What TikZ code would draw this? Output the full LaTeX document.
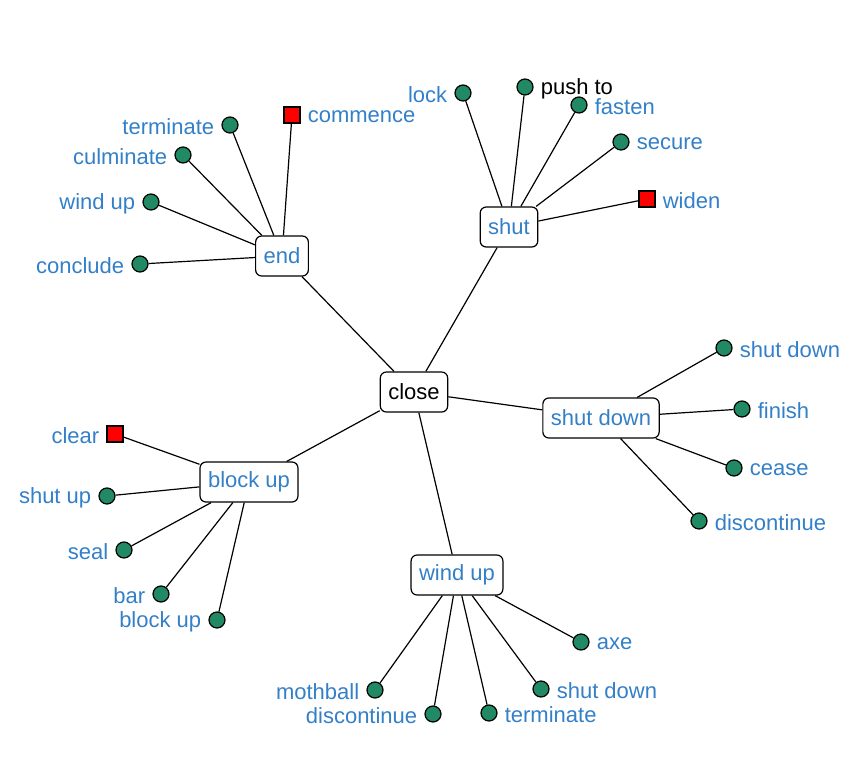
\documentclass[tikz,border=0pt]{standalone}
\usepackage{fontspec}
\setmainfont{Liberation Sans}
\definecolor{lblue}{HTML}{3380C8}
\definecolor{lgreen}{HTML}{218A65}
\definecolor{lred}{HTML}{FF0000}
\tikzset{
  hub/.style={draw, line width=1.2pt, rounded corners=6pt, fill=white, minimum height=40pt, inner xsep=8pt, inner ysep=0pt, font=\fontsize{22}{26}\selectfont, text=lblue},
  leaf/.style={circle, draw, line width=1.2pt, fill=lgreen, minimum size=16pt, inner sep=0pt},
  sq/.style={rectangle, draw, line width=1.2pt, fill=lred, minimum size=16pt, inner sep=0pt},
  lbl/.style={font=\fontsize{22}{26}\selectfont, text=lblue, inner sep=0pt, yshift=-1.5pt},
  lblk/.style={font=\fontsize{22}{26}\selectfont, text=black, inner sep=0pt, yshift=-1.5pt},
  edge/.style={line width=1.2pt, black},
  label distance=7pt
}
\begin{document}
\begin{tikzpicture}[x=1pt,y=-1pt]
\useasboundingbox (0,0) rectangle (860,763);
% hubs
\node[hub, text=black] (close) at (414,392) {close};
\node[hub] (end) at (282,256) {end};
\node[hub] (shut) at (509,227) {shut};
\node[hub] (sd) at (601,418) {shut down};
\node[hub] (bu) at (249,482) {block up};
\node[hub] (wu) at (457,575) {wind up};
% end leaves
\node[leaf, label={[lbl]left:terminate}] (e1) at (230,125) {};
\node[leaf, label={[lbl]left:culminate}] (e2) at (183,155) {};
\node[leaf, label={[lbl]left:wind up}] (e3) at (151,202) {};
\node[leaf, label={[lbl]left:conclude}] (e4) at (140,264) {};
\node[sq, label={[lbl]right:commence}] (e5) at (292,115) {};
% shut leaves
\node[leaf, label={[lbl]left:lock}] (s1) at (463,93) {};
\node[leaf, label={[lblk]right:push to}] (s2) at (525,87) {};
\node[leaf, label={[lbl]right:fasten}] (s3) at (579,105) {};
\node[leaf, label={[lbl]right:secure}] (s4) at (621,142) {};
\node[sq, label={[lbl]right:widen}] (s5) at (647,199) {};
% shut down leaves
\node[leaf, label={[lbl]right:shut down}] (d1) at (724,348) {};
\node[leaf, label={[lbl]right:finish}] (d2) at (742,409) {};
\node[leaf, label={[lbl]right:cease}] (d3) at (734,468) {};
\node[leaf, label={[lbl]right:discontinue}] (d4) at (699,521) {};
% block up leaves
\node[sq, label={[lbl]left:clear}] (b1) at (115,434) {};
\node[leaf, label={[lbl]left:shut up}] (b2) at (107,496) {};
\node[leaf, label={[lbl]left:seal}] (b3) at (124,550) {};
\node[leaf, label={[lbl]left:bar}] (b4) at (161,594) {};
\node[leaf, label={[lbl]left:block up}] (b5) at (217,620) {};
% wind up leaves
\node[leaf, label={[lbl]right:axe}] (w1) at (581,642) {};
\node[leaf, label={[lbl]right:shut down}] (w2) at (541,689) {};
\node[leaf, label={[lbl]right:terminate}] (w3) at (489,713) {};
\node[leaf, label={[lbl]left:discontinue}] (w4) at (433,714) {};
\node[leaf, label={[lbl]left:mothball}] (w5) at (375,690) {};
% edges
\foreach \h in {end,shut,sd,bu,wu} \draw[edge] (close) -- (\h);
\foreach \l in {e1,e2,e3,e4,e5} \draw[edge] (end) -- (\l);
\foreach \l in {s1,s2,s3,s4,s5} \draw[edge] (shut) -- (\l);
\foreach \l in {d1,d2,d3,d4} \draw[edge] (sd) -- (\l);
\foreach \l in {b1,b2,b3,b4,b5} \draw[edge] (bu) -- (\l);
\foreach \l in {w1,w2,w3,w4,w5} \draw[edge] (wu) -- (\l);
\end{tikzpicture}
\end{document}
